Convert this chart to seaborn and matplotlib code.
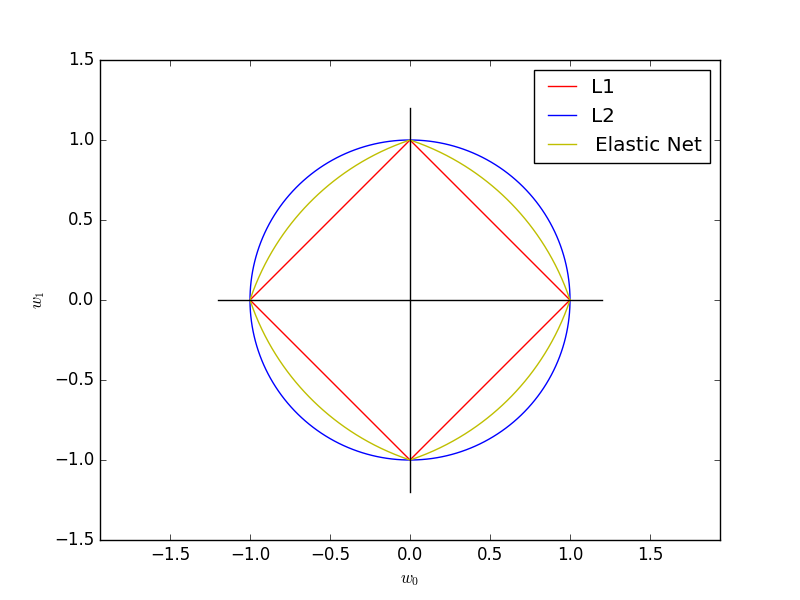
import numpy as np
import matplotlib
matplotlib.use("Agg")
import matplotlib.pyplot as plt
import seaborn as sns

plt.style.use("classic")

# L1 ball vertices (unit diamond)
l1_w0 = [1, 0, -1, 0, 1]
l1_w1 = [0, 1, 0, -1, 0]

# L2 ball radius and elastic net mixing ratio
l2_radius = 1.0
enet_ratio = 0.5

# coordinate axes drawn inside the plot
axis_span = [-1.2, 1.2]

theta = np.linspace(0, 2 * np.pi, 400)
c, s = np.cos(theta), np.sin(theta)
l2_w0 = l2_radius * c
l2_w1 = l2_radius * s

# elastic net contour: ratio*|w|_1 + (1-ratio)*|w|_2^2 = 1
a = np.abs(c) + np.abs(s)
r = (-enet_ratio * a + np.sqrt((enet_ratio * a) ** 2 + 4 * (1 - enet_ratio))) / (2 * (1 - enet_ratio))
en_w0 = r * c
en_w1 = r * s

fig, ax = plt.subplots(figsize=(8, 6), dpi=100)

sns.lineplot(x=l1_w0, y=l1_w1, sort=False, estimator=None, color="r", label="L1", ax=ax)
sns.lineplot(x=l2_w0, y=l2_w1, sort=False, estimator=None, color="b", label="L2", ax=ax)
sns.lineplot(x=en_w0, y=en_w1, sort=False, estimator=None, color="y", label="\u2009Elastic Net", ax=ax)

ax.plot(axis_span, [0, 0], color="k")
ax.plot([0, 0], axis_span, color="k")

ax.set_ylim(-1.5, 1.5)
ax.set_xlim(-1.9375, 1.9375)
ax.set_xticks([-1.5, -1.0, -0.5, 0.0, 0.5, 1.0, 1.5])
ax.set_yticks([-1.5, -1.0, -0.5, 0.0, 0.5, 1.0, 1.5])
ax.set_xlabel("$w_0$")
ax.set_ylabel("$w_1$")
ax.legend(loc="upper right", handletextpad=0.45)

plt.savefig("out.png", dpi=100)
plt.close()
